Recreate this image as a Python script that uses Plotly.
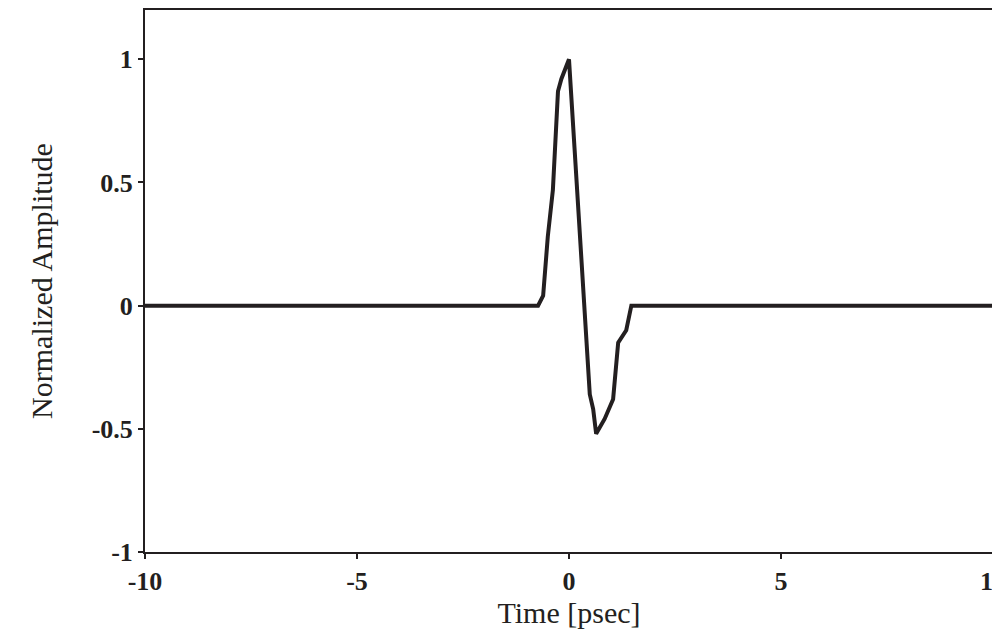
import plotly.graph_objects as go

time_ps = [-10, -0.73, -0.61, -0.50, -0.38, -0.26, -0.18, 0.0, 0.13, 0.25, 0.37,
           0.49, 0.57, 0.64, 0.84, 1.04, 1.16, 1.35, 1.47, 10]
amplitude = [0, 0, 0.04, 0.28, 0.47, 0.87, 0.92, 1.0, 0.64, 0.30, -0.04,
             -0.36, -0.42, -0.52, -0.46, -0.38, -0.15, -0.10, 0, 0]
x_ticks = [-10, -5, 0, 5, 10]
y_ticks = [-1, -0.5, 0, 0.5, 1]

fig = go.Figure(go.Scatter(x=time_ps, y=amplitude, mode="lines",
                           line=dict(color="#231f20", width=4)))

axis = dict(showgrid=False, zeroline=False, showline=True, linecolor="#231f20", linewidth=2,
            mirror=True, ticks="outside", ticklen=5, tickwidth=2, tickcolor="#231f20",
            tickfont=dict(family="Liberation Serif", size=26, color="#231f20", weight="bold"),
            title_font=dict(family="Liberation Serif", size=30, color="#231f20"))
fig.update_xaxes(axis, range=[-10, 10], tickvals=x_ticks, ticktext=[str(v) for v in x_ticks],
                 title_text="Time [psec]", title_standoff=6)
fig.update_yaxes(axis, range=[-1, 1.2], tickvals=y_ticks, ticktext=[f"{v:g}" for v in y_ticks],
                 title_text="Normalized Amplitude", title_standoff=30)
fig.update_layout(width=1000, height=644, plot_bgcolor="white", paper_bgcolor="white",
                  margin=dict(l=137, r=15, t=0, b=100), showlegend=False)
fig.write_html("out.html")
